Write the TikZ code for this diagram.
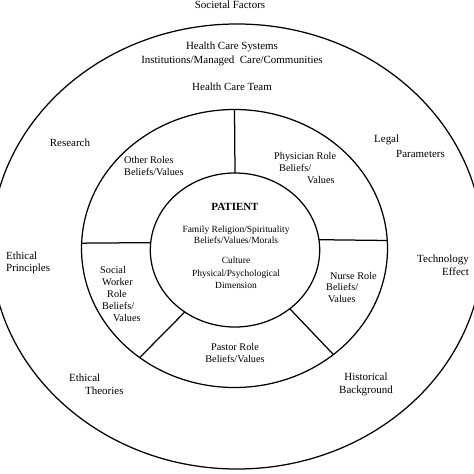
\documentclass[tikz,border=0pt]{standalone}
\usepackage{fontspec}
\setmainfont{Liberation Serif}
\usetikzlibrary{shapes.geometric}
\begin{document}
\begin{tikzpicture}[x=1bp,y=-1bp,
  ring/.style={draw, ellipse, line width=1.25bp, inner sep=0pt, outer sep=0pt},
  conn/.style={line width=1.25bp},
  biglabel/.style={font=\fontsize{11}{13.5}\selectfont, inner sep=0pt},
  rolelabel/.style={font=\fontsize{10.3}{12}\selectfont, inner sep=0pt},
  patlabel/.style={font=\fontsize{9.5}{11.5}\selectfont, inner sep=0pt}]
\useasboundingbox (0,0) rectangle (474,474);
\fill[white] (0,0) rectangle (474,474);
\begin{scope}
\clip (0,0) rectangle (474,474);
\node[ring, minimum width=492bp, minimum height=445bp] (outer) at (237,246.5) {};
\end{scope}
\node[ring, minimum width=306bp, minimum height=278bp] (mid) at (234.5,248.5) {};
\node[ring, minimum width=169.4bp, minimum height=154bp] (inner) at (235,250) {};

% connectors dividing the role ring
\draw[conn] (mid.90) -- (inner.90);
\draw[conn] (mid.178) -- (inner.175.5);
\draw[conn] (mid.3.5) -- (inner.7.3);
\draw[conn] (mid.229) -- (inner.231);
\draw[conn] (mid.313) -- (inner.313);

% outer labels
\node[biglabel] (societal) at (230,5) {Societal Factors};
\node[biglabel, align=center] (hcs) at (232,53.8) {Health Care Systems\\Institutions/Managed~ Care/Communities};
\node[biglabel] (hct) at (232,87) {Health Care Team};
\node[biglabel] (research) at (70,143) {Research};
\node[biglabel, align=left, anchor=west] (legal) at (374,146.5) {Legal\\[1.5bp]\hspace*{22bp}Parameters};
\node[biglabel, align=left, anchor=west] (ethp) at (6,263) {Ethical\\[-1bp]Principles};
\node[biglabel, align=right, anchor=east] (tech) at (469,265.5) {Technology\\[-0.5bp]Effect};
\node[biglabel, align=left, anchor=west] (etht) at (69,384.5) {Ethical\\[-0.8bp]\hspace*{16bp}Theories};
\node[biglabel, align=center] (hist) at (366,384.7) {Historical\\[-0.5bp]Background};

% role ring labels
\node[rolelabel, align=left, anchor=west] (other) at (124,166) {Other Roles\\Beliefs/Values};
\node[rolelabel, align=left, anchor=west] (phys) at (274,168) {Physician Role\\\hspace*{5bp}Beliefs/\\\hspace*{33bp}Values};
\node[rolelabel, align=left, anchor=west] (social) at (100,294.3) {Social\\\hspace*{2bp}Worker\\\hspace*{7bp}Role\\\hspace*{2bp}Beliefs/\\\hspace*{13bp}Values};
\node[rolelabel, align=left, anchor=west, font=\fontsize{10.3}{11.5}\selectfont] (nurse) at (326,287.5) {\hspace*{4bp}Nurse Role\\Beliefs/\\\hspace*{2bp}Values};
\node[rolelabel, align=center] (pastor) at (235,352.8) {Pastor Role\\Beliefs/Values};

% patient
\node[font=\fontsize{11}{13}\selectfont\bfseries, inner sep=0pt] (patient) at (235,207) {PATIENT};
\node[patlabel, align=center, font=\fontsize{9.5}{10.5}\selectfont] (patdet) at (236,235) {Family Religion/Spirituality\\Beliefs/Values/Morals};
\node[patlabel, align=center, font=\fontsize{9.5}{12.5}\selectfont] (patdim) at (236,273) {Culture\\Physical/Psychological\\Dimension};
\end{tikzpicture}
\end{document}
